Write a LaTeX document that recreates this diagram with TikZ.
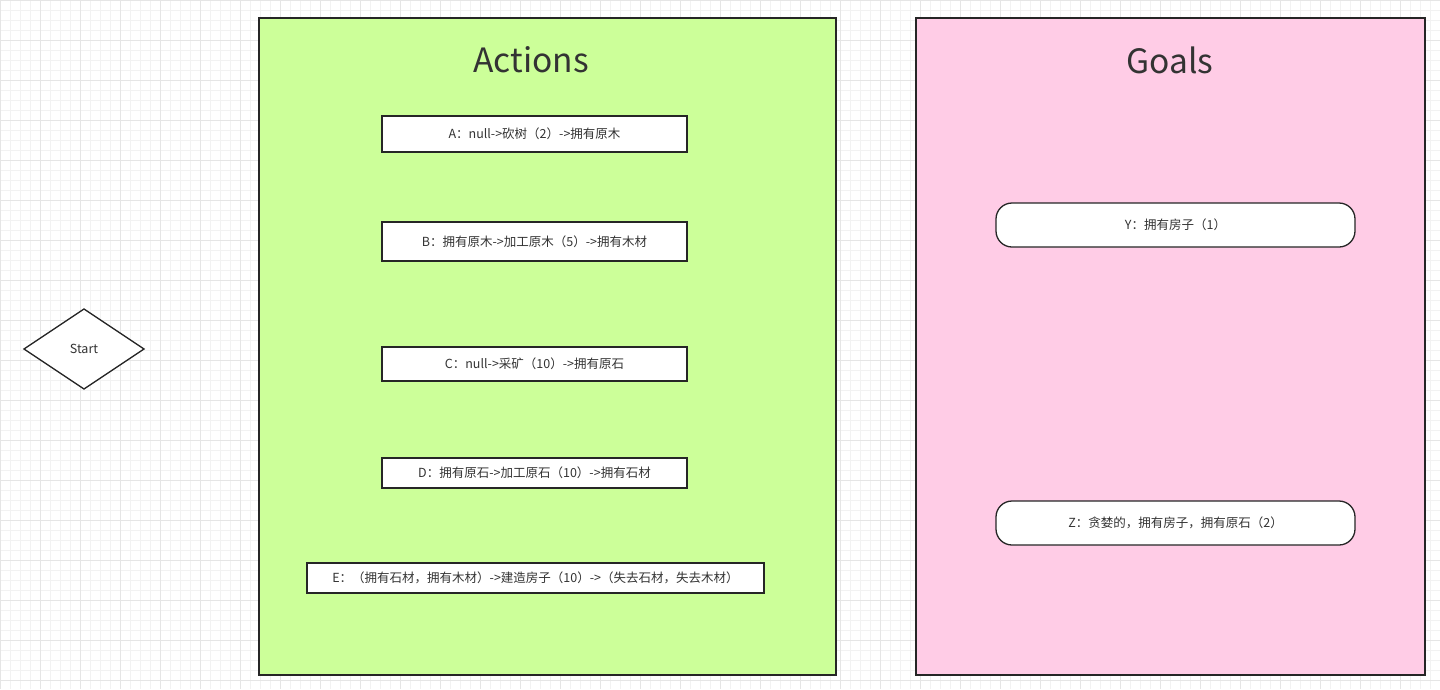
\documentclass[tikz,border=0pt]{standalone}
\usepackage{fontspec}
\setmainfont{Noto Sans CJK SC}
\begin{document}
\begin{tikzpicture}[x=1pt,y=-1pt,
 act/.style={draw=black!85,line width=1.3pt,fill=white,minimum height=#1,font=\fontsize{12.5}{14}\selectfont,text=black!80,inner sep=0pt},
 goal/.style={draw=black!85,line width=1.3pt,fill=white,rounded corners=16pt,minimum width=359,minimum height=44,font=\fontsize{12.5}{14}\selectfont,text=black!80},
 panel/.style={draw=black!85,line width=1.3pt},
 ttl/.style={font=\fontsize{33.5}{38}\selectfont,text=black!80}]
\useasboundingbox (0,0) rectangle (1440,689);
\fill[white] (0,0) rectangle (1440,689);
\foreach \i in {0,10,...,1440} \draw[black!5,line width=0.4pt] (\i,0) -- (\i,689);
\foreach \i in {0,10,...,680} \draw[black!5,line width=0.4pt] (0,\i) -- (1440,\i);
\foreach \i in {0,40,...,1440} \draw[black!10,line width=0.5pt] (\i,0) -- (\i,689);
\foreach \i in {0,40,...,680} \draw[black!10,line width=0.5pt] (0,\i) -- (1440,\i);
\draw[panel,fill={rgb,255:red,204;green,255;blue,153}] (259,18) rectangle (836,675);
\draw[panel,fill={rgb,255:red,255;green,204;blue,230}] (916,18) rectangle (1425,675);
\node[ttl] (ta) at (531,60) {Actions};
\node[ttl] (tg) at (1170,60) {Goals};
\node[act=36,minimum width=305] (A) at (534.5,134) {A：null->砍树（2）->拥有原木};
\node[act=39,minimum width=305] (B) at (534.5,241.5) {B：拥有原木->加工原木（5）->拥有木材};
\node[act=34,minimum width=305] (C) at (534.5,364) {C：null->采矿（10）->拥有原石};
\node[act=30,minimum width=305] (D) at (534.5,473) {D：拥有原石->加工原石（10）->拥有石材};
\node[act=30,minimum width=457] (E) at (535.5,578) {E：（拥有石材，拥有木材）->建造房子（10）->（失去石材，失去木材）};
\node[goal] (Y) at (1175.5,225) {Y：拥有房子（1）};
\node[goal] (Z) at (1175.5,523) {Z：贪婪的，拥有房子，拥有原石（2）};
\draw[black!85,line width=1.3pt,fill=white] (24,349) -- (84,309) -- (144,349) -- (84,389) -- cycle;
\node[font=\fontsize{12.5}{14}\selectfont,text=black!80] (S) at (84,349) {Start};
\end{tikzpicture}
\end{document}
